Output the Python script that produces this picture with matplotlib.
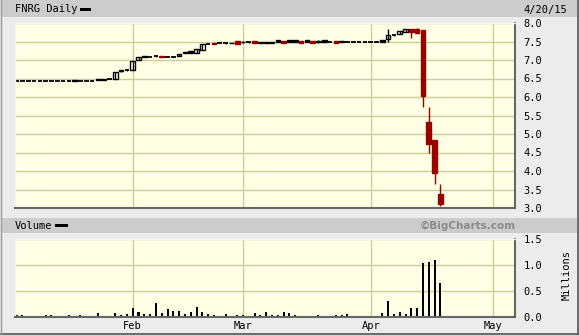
import numpy as np
import pandas as pd
import matplotlib
matplotlib.use("Agg")
import matplotlib.pyplot as plt
from matplotlib.patches import Rectangle

W, H = 579, 335

# trading days (NYSE holidays dropped)
holidays = ["2015-01-19", "2015-02-16", "2015-04-03"]
cal = pd.bdate_range("2015-01-02", "2015-05-06").drop(pd.to_datetime(holidays))
dates = cal[cal <= "2015-04-20"]

opens = [6.44, 6.44, 6.44, 6.44, 6.44, 6.44, 6.44, 6.44, 6.44, 6.44,
         6.46, 6.44, 6.44, 6.44, 6.48, 6.49, 6.50, 6.50, 6.72, 6.73,
         6.74, 7.01, 7.11, 7.09, 7.10, 7.12, 7.09, 7.09, 7.11, 7.22,
         7.24, 7.19, 7.28, 7.44, 7.47, 7.45, 7.45, 7.47, 7.51, 7.49,
         7.48, 7.51, 7.50, 7.50, 7.50, 7.53, 7.51, 7.54, 7.53, 7.51,
         7.53, 7.51, 7.52, 7.53, 7.50, 7.52, 7.52, 7.50, 7.50, 7.50,
         7.50, 7.50, 7.50, 7.55, 7.56, 7.68, 7.69, 7.77, 7.84, 7.83,
         7.82, 5.33, 4.83, 3.37]
highs = [6.45, 6.44, 6.44, 6.44, 6.44, 6.44, 6.44, 6.44, 6.44, 6.44,
         6.46, 6.44, 6.44, 6.44, 6.48, 6.49, 6.50, 6.67, 6.74, 6.75,
         6.97, 7.09, 7.11, 7.09, 7.12, 7.12, 7.11, 7.11, 7.17, 7.22,
         7.24, 7.29, 7.43, 7.46, 7.47, 7.45, 7.47, 7.47, 7.51, 7.51,
         7.50, 7.51, 7.50, 7.50, 7.50, 7.53, 7.51, 7.54, 7.53, 7.51,
         7.53, 7.51, 7.54, 7.53, 7.52, 7.52, 7.52, 7.52, 7.50, 7.50,
         7.50, 7.50, 7.52, 7.55, 7.85, 7.70, 7.78, 7.83, 7.84, 7.87,
         7.82, 5.72, 4.85, 3.66]
lows = [6.43, 6.44, 6.44, 6.44, 6.44, 6.44, 6.44, 6.44, 6.44, 6.44,
        6.44, 6.44, 6.44, 6.44, 6.46, 6.47, 6.50, 6.50, 6.68, 6.71,
        6.73, 7.01, 7.09, 7.09, 7.08, 7.09, 7.07, 7.07, 7.11, 7.18,
        7.20, 7.19, 7.28, 7.42, 7.43, 7.45, 7.43, 7.45, 7.44, 7.46,
        7.46, 7.46, 7.47, 7.47, 7.47, 7.48, 7.46, 7.49, 7.49, 7.46,
        7.49, 7.46, 7.47, 7.49, 7.48, 7.47, 7.48, 7.48, 7.50, 7.50,
        7.50, 7.50, 7.48, 7.50, 7.49, 7.66, 7.69, 7.77, 7.60, 7.72,
        5.73, 4.49, 3.66, 3.05]
closes = [6.44, 6.44, 6.44, 6.44, 6.44, 6.44, 6.44, 6.44, 6.44, 6.44,
          6.44, 6.44, 6.44, 6.44, 6.46, 6.47, 6.50, 6.67, 6.70, 6.73,
          6.96, 7.09, 7.09, 7.09, 7.10, 7.09, 7.09, 7.09, 7.17, 7.18,
          7.20, 7.29, 7.43, 7.44, 7.43, 7.45, 7.45, 7.45, 7.44, 7.48,
          7.48, 7.46, 7.47, 7.47, 7.47, 7.48, 7.46, 7.49, 7.49, 7.46,
          7.49, 7.46, 7.49, 7.49, 7.50, 7.47, 7.48, 7.50, 7.50, 7.50,
          7.50, 7.50, 7.50, 7.50, 7.67, 7.68, 7.78, 7.83, 7.76, 7.72,
          6.04, 4.74, 3.95, 3.11]
# volume in millions
volume = [0.026, 0.026, 0.005, 0.005, 0.013, 0.026, 0.026, 0.013, 0.005, 0.026,
          0.013, 0.026, 0.013, 0.013, 0.065, 0.013, 0.013, 0.065, 0.026, 0.052,
          0.17, 0.09, 0.052, 0.052, 0.26, 0.065, 0.15, 0.11, 0.11, 0.052,
          0.09, 0.18, 0.09, 0.052, 0.039, 0.013, 0.052, 0.005, 0.026, 0.026,
          0.013, 0.065, 0.026, 0.10, 0.039, 0.039, 0.10, 0.065, 0.03, 0.02,
          0.013, 0.013, 0.032, 0.02, 0.013, 0.026, 0.026, 0.052, 0.013, 0.013,
          0.013, 0.013, 0.013, 0.065, 0.30, 0.052, 0.084, 0.052, 0.17, 0.17,
          1.05, 1.06, 1.09, 0.65]

months = ["Feb", "Mar", "Apr", "May"]
month_pos = [int(np.argmax(cal.month == m)) for m in (2, 3, 4, 5)]
price_ticks = np.arange(3.0, 8.01, 0.5)
vol_ticks = [0.0, 0.5, 1.0, 1.5]

o = np.array(opens); h = np.array(highs); l = np.array(lows); c = np.array(closes)
x = np.arange(len(dates))
prev = np.r_[c[0], c[:-1]]
cols = np.where(c < prev, "#990000", "black")

MONO = "DejaVu Sans Mono"
FS = 7.5
GRID = "#cccc99"
FACE = "#ffffe5"

fig = plt.figure(figsize=(W / 100, H / 100), dpi=100, facecolor="#ececec")

# background: header bars, borders, labels (pixel coords)
bg = fig.add_axes([0, 0, 1, 1], zorder=-1)
bg.set_xlim(0, W)
bg.set_ylim(H, 0)
bg.axis("off")
bg.add_patch(Rectangle((1, 0), 576, 16.7, color="#cccccc", lw=0))
bg.add_patch(Rectangle((1, 218.3), 576, 14.4, color="#cccccc", lw=0))
bg.plot([577.5, 577.5], [0, 334], color="#555555", lw=1.2)
bg.plot([0, 578], [333.8, 333.8], color="#555555", lw=1.2)
bg.plot([0.5, 0.5], [0, 334], color="#999999", lw=1)
bg.text(15, 9.5, "FNRG Daily", family=MONO, size=FS, va="center", ha="left")
bg.add_patch(Rectangle((80, 8), 11, 3, color="black", lw=0))
bg.text(523, 9.5, "4/20/15", family=MONO, size=FS, va="center", ha="left")
bg.text(15, 225.7, "Volume", family=MONO, size=FS, va="center", ha="left")
bg.add_patch(Rectangle((55, 224.3), 13, 3, color="black", lw=0))
bg.text(516, 225.7, "\u00a9BigCharts.com", family="DejaVu Sans", size=7.5,
        weight="bold", color="#8a8a8a", va="center", ha="right")
bg.text(567, 275, "Millions", family=MONO, size=FS, rotation=90,
        va="center", ha="center")

left = 14.7 / W
width = (515 - 14.7) / W
pax = fig.add_axes([left, 1 - 208 / H, width, 185 / H])
vax = fig.add_axes([left, 1 - 316.7 / H, width, 77.4 / H])

for ax in (pax, vax):
    ax.set_facecolor(FACE)
    ax.set_xlim(-0.33, 85.86)
    ax.set_xticks(month_pos)
    ax.set_axisbelow(True)
    ax.grid(True, color=GRID, lw=1.0)
    ax.yaxis.tick_right()
    ax.tick_params(length=0, labelsize=FS, pad=6)
    for s in ("right", "bottom"):
        ax.spines[s].set_color("#666666")
        ax.spines[s].set_linewidth(1.5)
    for s in ("top", "left"):
        ax.spines[s].set_color("#f6f6f6")
        ax.spines[s].set_linewidth(1)

# price candles
pax.set_ylim(3.0, 8.0)
pax.set_yticks(price_ticks)
pax.set_yticklabels(["%.1f" % v for v in price_ticks], family=MONO)
pax.set_xticklabels([])
pax.vlines(x, l, h, colors=cols, lw=1.0)
body = np.abs(c - o) > 0.001
fill = np.where(c < o, cols, "white")
pax.bar(x[body], np.abs(c - o)[body], bottom=np.minimum(o, c)[body], width=0.8,
        facecolor=fill[body], edgecolor=cols[body], lw=1.0)
pax.hlines(c[~body], x[~body] - 0.4, x[~body] + 0.4, colors=cols[~body], lw=1.3)

# volume
vax.set_ylim(0, 1.5)
vax.set_yticks(vol_ticks)
vax.set_yticklabels(["%.1f" % v for v in vol_ticks], family=MONO)
vax.bar(x, volume, width=0.35, color="black")
vax.set_xticklabels(months, family=MONO)
vax.tick_params(axis="x", pad=3)

fig.savefig("out.png", dpi=100, facecolor=fig.get_facecolor())
